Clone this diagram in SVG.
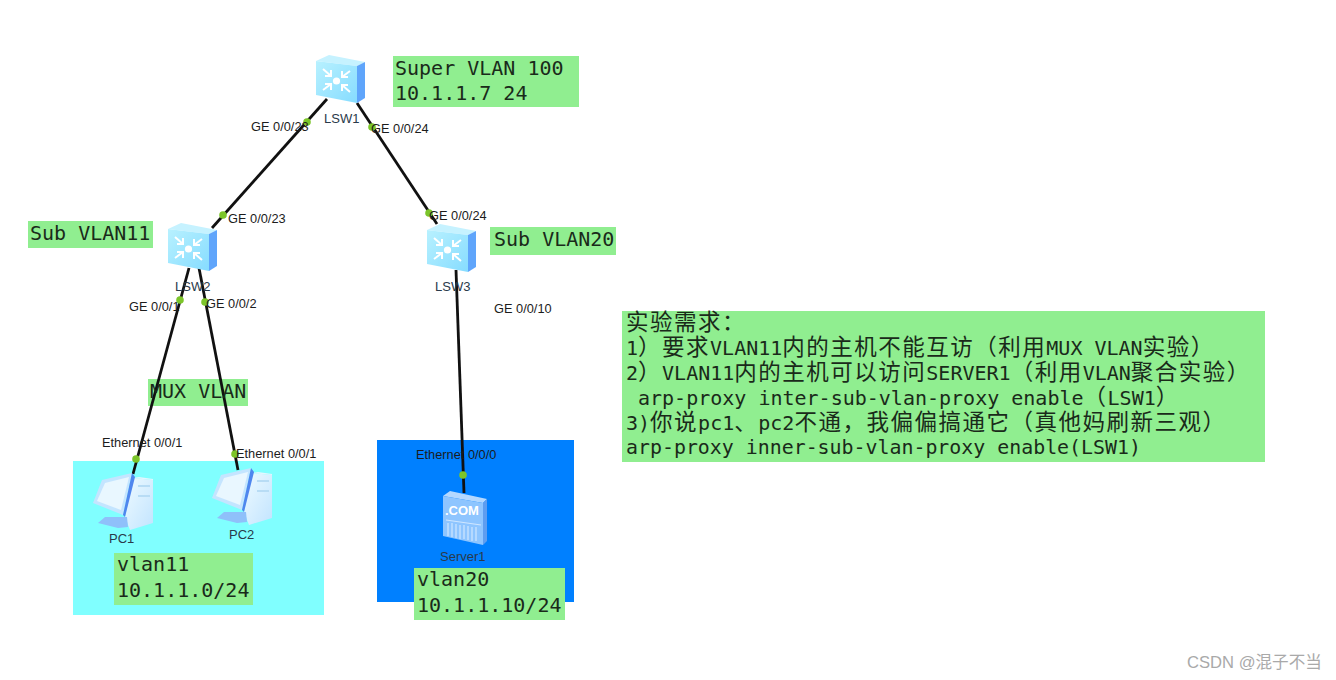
<svg xmlns="http://www.w3.org/2000/svg" width="1336" height="680" viewBox="0 0 1336 680">
<style>
.box{fill:#90ee90}
.m{font-family:"DejaVu Sans Mono","Liberation Mono",monospace;font-size:20px;fill:#1a2a1a}
.r{font-size:19.9px}
.c{font-family:"Noto Sans CJK SC","DejaVu Sans",sans-serif;font-size:22.5px;letter-spacing:1.5px}
.l{font-family:"Liberation Sans",Arial,sans-serif;font-size:12.8px;fill:#1c1c1c}
.n{font-family:"Liberation Sans",Arial,sans-serif;font-size:13px;fill:#2a3a4a}
.link{stroke:#111;stroke-width:2.8;fill:none}
.dot{fill:#7cc52a}
</style>
<defs>
<linearGradient id="sf" x1="0" y1="0" x2="1" y2="1"><stop offset="0" stop-color="#b8f1ff"/><stop offset="1" stop-color="#86dcff"/></linearGradient>
<linearGradient id="pc" x1="0" y1="0" x2="1" y2="1"><stop offset="0" stop-color="#eefaff"/><stop offset="1" stop-color="#c2e4ff"/></linearGradient>
<g id="switch">
<polygon points="0,6 13,0 49,7 41,11" fill="#c6f2ff"/>
<polygon points="0,6 41,11 41,48 0,40" fill="url(#sf)"/>
<polygon points="41,11 49,7 49,43 41,48" fill="#5fa5fb"/>
<g stroke="#fff" stroke-width="2" fill="none">
<path d="M7 14l8 7M9 21h6v-6"/>
<path d="M34 16l-8 6M26 16v6h6"/>
<path d="M15 29l-8 6M9 29h6v6"/>
<path d="M26 30l8 7M32 30h-6v6"/>
</g>
<circle cx="20.5" cy="26" r="3.6" fill="#fff"/>
</g>
<g id="computer">
<polygon points="36,5 56,7 56,50 33,57 28,44" fill="url(#pc)"/>
<polygon points="36,5 42,4 56,6 56,7" fill="#e4f6ff"/>
<polygon points="5,7 35,0 26,42 -4,30" fill="#c4e5ff"/>
<polygon points="8,10 32,4 24,37 0,28" fill="#e9f7ff"/>
<polygon points="35,0 38,4 28,44 26,42" fill="#4f86ee"/>
<polygon points="1,50 8,44 30,44 31,54 21,55" fill="#8fc0fa"/>
<rect x="41" y="12" width="12" height="2" fill="#b8dcf5"/>
<rect x="41" y="22" width="12" height="2" fill="#b8dcf5"/>
</g>
</defs>
<rect width="1336" height="680" fill="#fff"/>
<rect x="73" y="461" width="251" height="154" fill="#80ffff"/>
<rect x="377" y="440" width="197" height="162" fill="#0080ff"/>
<rect class="box" x="148" y="379" width="100" height="27"/>

<g id="connectors">
<line class="link" x1="327" y1="99" x2="212" y2="228"/>
<line class="link" x1="357" y1="103" x2="437" y2="224"/>
<line class="link" x1="189" y1="268" x2="133" y2="474"/>
<line class="link" x1="199" y1="268" x2="238" y2="470"/>
<line class="link" x1="456" y1="270" x2="464" y2="493"/>
<circle class="dot" cx="307" cy="122" r="3.8"/>
<circle class="dot" cx="372" cy="127" r="3.8"/>
<circle class="dot" cx="223" cy="215" r="3.8"/>
<circle class="dot" cx="429" cy="213" r="3.8"/>
<circle class="dot" cx="180" cy="300" r="3.8"/>
<circle class="dot" cx="205" cy="302" r="3.8"/>
<circle class="dot" cx="136" cy="459" r="3.8"/>
<circle class="dot" cx="235" cy="454" r="3.8"/>
<circle class="dot" cx="463" cy="475" r="3.8"/>
</g>
<g id="port-labels">
<text class="l" x="251" y="131">GE 0/0/23</text>
<text class="l" x="371" y="133">GE 0/0/24</text>
<text class="l" x="228" y="223">GE 0/0/23</text>
<text class="l" x="429" y="220">GE 0/0/24</text>
<text class="l" x="129" y="311">GE 0/0/1</text>
<text class="l" x="206" y="308">GE 0/0/2</text>
<text class="l" x="494" y="313">GE 0/0/10</text>
<text class="l" x="102" y="447">Ethernet 0/0/1</text>
<text class="l" x="236" y="458">Ethernet 0/0/1</text>
<text class="l" x="416" y="459">Ethernet 0/0/0</text>
</g>

<g id="LSW1"><use href="#switch" x="316" y="55"/><text class="n" x="324" y="123">LSW1</text></g>
<g id="LSW2"><use href="#switch" x="168" y="223"/><text class="n" x="175" y="291">LSW2</text></g>
<g id="LSW3"><use href="#switch" x="427" y="224"/><text class="n" x="435" y="291">LSW3</text></g>
<g id="PC1"><use href="#computer" x="97" y="473"/><text class="n" x="109" y="543">PC1</text></g>
<g id="PC2"><use href="#computer" x="216" y="468"/><text class="n" x="229" y="539">PC2</text></g>
<g id="Server1">
<polygon points="443,496 450,491 487,499 483,503" fill="#b4d8ff"/>
<polygon points="443,496 483,503 483,545 443,536" fill="#8ec5ff"/>
<polygon points="483,503 487,499 487,541 483,545" fill="#5e9df0"/>
<text x="445" y="515" font-family="Liberation Sans,sans-serif" font-size="13" font-weight="700" fill="#fff">.COM</text>
<path d="M446 520l35 5M448 523v13M452 523v14M456 524v14M460 525v14M464 525v14M468 526v14M472 527v14M476 527v14" stroke="#cfe6ff" stroke-width="1.2" fill="none"/>
<text class="n" x="440" y="561">Server1</text>
</g>

<g id="note-super"><rect class="box" x="393" y="56" width="186" height="51"/>
<text class="m"><tspan x="395" y="75">Super VLAN 100</tspan><tspan x="395" y="100">10.1.1.7 24</tspan></text></g>
<g id="note-sub11"><rect class="box" x="28" y="221" width="125" height="27"/><text class="m" x="30" y="240">Sub VLAN11</text></g>
<g id="note-sub20"><rect class="box" x="490" y="227" width="126" height="28"/><text class="m" x="494" y="246">Sub VLAN20</text></g>
<g id="note-mux"><text class="m" x="150" y="398">MUX VLAN</text></g>
<g id="note-vlan11"><rect class="box" x="114" y="553" width="139" height="52"/>
<text class="m"><tspan x="117" y="571">vlan11</tspan><tspan x="117" y="597">10.1.1.0/24</tspan></text></g>
<g id="note-vlan20"><rect class="box" x="414" y="568" width="151" height="52"/>
<text class="m"><tspan x="417" y="586">vlan20</tspan><tspan x="417" y="612">10.1.1.10/24</tspan></text></g>

<g id="note-req">
<rect class="box" x="622" y="311" width="643" height="151"/>
<text class="m" x="626" y="330"><tspan class="c">实验需求：</tspan></text>
<text class="m" x="626" y="355">1<tspan class="c">）要求</tspan>VLAN11<tspan class="c">内的主机不能互访（利用</tspan>MUX VLAN<tspan class="c">实验）</tspan></text>
<text class="m" x="626" y="380">2<tspan class="c">）</tspan>VLAN11<tspan class="c">内的主机可以访问</tspan>SERVER1<tspan class="c">（利用</tspan>VLAN<tspan class="c">聚合实验）</tspan></text>
<text class="m" x="638" y="405">arp-proxy inter-sub-vlan-proxy enable<tspan class="c">（</tspan>LSW1<tspan class="c">）</tspan></text>
<text class="m" x="626" y="430">3)<tspan class="c">你说</tspan>pc1<tspan class="c">、</tspan>pc2<tspan class="c">不通，我偏偏搞通它（真他妈刷新三观）</tspan></text>
<text class="m r" x="626" y="454">arp-proxy inner-sub-vlan-proxy enable(LSW1)</text>
</g>
<text x="1187" y="668" font-family="Liberation Sans,Noto Sans CJK SC,sans-serif" font-size="16.6" fill="#a9a9a9">CSDN @混子不当</text>
</svg>
